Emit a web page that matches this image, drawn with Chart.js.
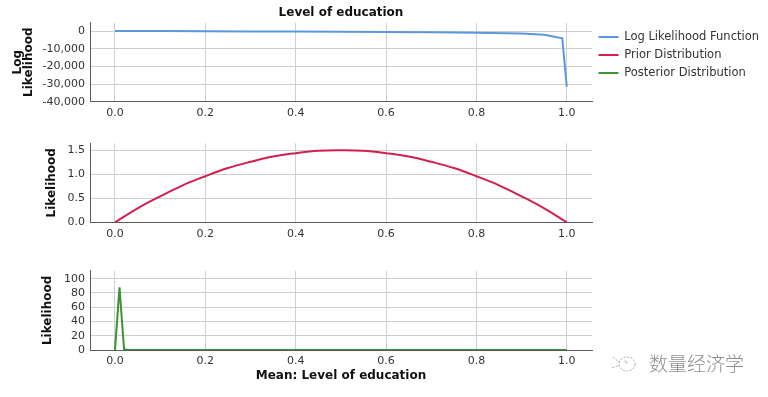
<!DOCTYPE html>
<html>
<head>
<meta charset="utf-8">
<script src="https://cdn.jsdelivr.net/npm/chart.js@4.4.1/dist/chart.umd.min.js"></script>
<style>
  html, body { margin: 0; padding: 0; background: #fff; }
  #wrap { position: relative; width: 768px; height: 397px; }
  #wrap canvas { position: absolute; left: 0; top: 0; }
  #mark { position: absolute; left: 611px; top: 349px; color: #8e8e8e;
          font-family: "Noto Sans CJK SC", sans-serif; font-size: 19px; font-weight: 300;
          display: flex; align-items: center; }
  #mark svg { margin-right: 12px; }
</style>
</head>
<body>
<div id="wrap">
  <canvas id="graph-loglik" width="768" height="397"></canvas>
  <canvas id="graph-prior" width="768" height="397"></canvas>
  <canvas id="graph-post" width="768" height="397"></canvas>
  <div id="mark">
    <svg width="26" height="20" viewBox="0 0 26 20" fill="none" stroke="#a5a5a5" stroke-width="1" stroke-dasharray="2 1.5">
      <ellipse cx="16" cy="11" rx="8" ry="7"/>
      <circle cx="15" cy="9" r="1.2"/>
      <path d="M2 4 Q6 8 9 9 M1 15 Q5 13 8 13"/>
    </svg>
    <span>数量经济学</span>
  </div>
</div>
<script>
// series names / colours for the shared legend
const seriesNames = ['Log Likelihood Function', 'Prior Distribution', 'Posterior Distribution'];
const seriesColors = ['#5b97dd', '#d11f4e', '#3a9335'];

// tick values
const xTicks = [0, 0.2, 0.4, 0.6, 0.8, 1.0];
const logLikTicks = [-40000, -30000, -20000, -10000, 0];
const priorTicks = [0, 0.5, 1.0, 1.5];
const postTicks = [0, 20, 40, 60, 80, 100];

// log likelihood
const logLikX = [0, 0.1, 0.2, 0.3, 0.4, 0.5, 0.6, 0.7, 0.8, 0.9, 0.95, 0.99, 1.0];
const logLikY = [0, -60, -130, -210, -300, -400, -520, -700, -950, -1450, -2100, -4100, -31500];

// prior (middle panel)
const priorX = [0, 0.05, 0.1, 0.15, 0.2, 0.25, 0.3, 0.35, 0.4, 0.45, 0.5,
                0.55, 0.6, 0.65, 0.7, 0.75, 0.8, 0.85, 0.9, 0.95, 1.0];
const priorY = [0, 0.29, 0.54, 0.77, 0.96, 1.13, 1.26, 1.37, 1.44, 1.49, 1.5,
                1.49, 1.44, 1.37, 1.26, 1.13, 0.96, 0.77, 0.54, 0.29, 0];

// posterior (bottom panel)
const postX = [0, 0.01, 0.02, 0.03, 0.5, 1.0];
const postY = [0, 88, 1, 0, 0, 0];

const xMin = -0.0553, xMax = 1.0558;
const gridColor = '#cfcfcf';
const axisColor = '#5a5a5a';

Chart.defaults.font.family = 'DejaVu Sans';
Chart.defaults.color = '#333';
Chart.defaults.animation = false;

function toPoints(xs, ys) {
    return xs.map((x, i) => ({x: x, y: ys[i]}));
}

function setTicks(values) {
    return sc => { sc.ticks = values.map(v => ({value: v})); };
}

function xScale(height, title) {
    const s = {
        type: 'linear',
        min: xMin,
        max: xMax,
        afterBuildTicks: setTicks(xTicks),
        ticks: {autoSkip: false, maxRotation: 0, padding: 5, font: {size: 11},
                callback: v => v.toFixed(1)},
        grid: {color: gridColor, drawTicks: false},
        border: {color: axisColor},
        afterFit: sc => { sc.height = height; }
    };
    if (title) {
        s.title = {display: true, text: title, color: '#111',
                   font: {size: 12, weight: 'bold'}, padding: {top: 0, bottom: 13.8}};
    }
    return s;
}

function yScale(min, max, tickValues, title, titlePad, fmt) {
    return {
        min: min,
        max: max,
        afterBuildTicks: setTicks(tickValues),
        ticks: {autoSkip: false, padding: 5, font: {size: 11}, callback: fmt},
        grid: {color: gridColor, drawTicks: false},
        border: {color: axisColor},
        title: {display: true, text: title, color: '#111',
                font: {size: 12, weight: 'bold', lineHeight: 0.95}, padding: {top: titlePad, bottom: 0}},
        afterFit: sc => { sc.width = 90; }
    };
}

// top panel: log likelihood + legend
new Chart(document.getElementById('graph-loglik'), {
    type: 'line',
    data: {
        datasets: [{
            label: seriesNames[0],
            data: toPoints(logLikX, logLikY),
            borderColor: seriesColors[0],
            borderWidth: 2,
            pointRadius: 0,
            fill: false
        }]
    },
    options: {
        responsive: false,
        devicePixelRatio: 1,
        layout: {padding: {top: 0, left: 0, right: 0, bottom: 397 - 101.7 - 20}},
        plugins: {
            tooltip: {enabled: false},
            legend: {
                position: 'right',
                align: 'start',
                fullSize: false,
                maxWidth: 176,
                title: {display: true, text: ' ', font: {size: 2, lineHeight: 1}, padding: 0},
                labels: {
                    boxWidth: 20,
                    boxHeight: 2,
                    padding: 6.5,
                    color: '#222',
                    font: {size: 11.5},
                    generateLabels: () => seriesNames.map((n, i) => ({
                        text: n, fillStyle: seriesColors[i], strokeStyle: seriesColors[i],
                        lineWidth: 0, hidden: false, datasetIndex: 0
                    }))
                }
            }
        },
        scales: {
            x: xScale(20),
            xTop: {
                type: 'linear',
                position: 'top',
                ticks: {display: false},
                grid: {display: false, drawTicks: false},
                border: {display: false},
                title: {display: true, text: 'Level of education', color: '#111',
                        font: {size: 12, weight: 'bold'}, padding: {top: 6, bottom: 0}},
                afterFit: sc => { sc.height = 22.7; }
            },
            y: yScale(-40000, 4700, logLikTicks, ['Log', 'Likelihood'], 12,
                      v => v.toLocaleString('en-US'))
        }
    }
});

// middle panel: prior
new Chart(document.getElementById('graph-prior'), {
    type: 'line',
    data: {
        datasets: [{
            label: seriesNames[1],
            data: toPoints(priorX, priorY),
            borderColor: seriesColors[1],
            borderWidth: 2,
            pointRadius: 0,
            tension: 0.4,
            fill: false
        }]
    },
    options: {
        responsive: false,
        devicePixelRatio: 1,
        layout: {padding: {top: 143.3, left: 0, right: 176, bottom: 397 - 222.3 - 20}},
        plugins: {legend: {display: false}, tooltip: {enabled: false}},
        scales: {
            x: xScale(20),
            y: yScale(0, 1.646, priorTicks, 'Likelihood', 46, v => v.toFixed(1))
        }
    }
});

// bottom panel: posterior
new Chart(document.getElementById('graph-post'), {
    type: 'line',
    data: {
        datasets: [{
            label: seriesNames[2],
            data: toPoints(postX, postY),
            borderColor: seriesColors[2],
            borderWidth: 2,
            pointRadius: 0,
            fill: false
        }]
    },
    options: {
        responsive: false,
        devicePixelRatio: 1,
        layout: {padding: {top: 270.7, left: 0, right: 176, bottom: 0}},
        plugins: {legend: {display: false}, tooltip: {enabled: false}},
        scales: {
            x: xScale(47, 'Mean: Level of education'),
            y: yScale(0, 111.2, postTicks, 'Likelihood', 42.6, v => String(v))
        }
    }
});
</script>
</body>
</html>
